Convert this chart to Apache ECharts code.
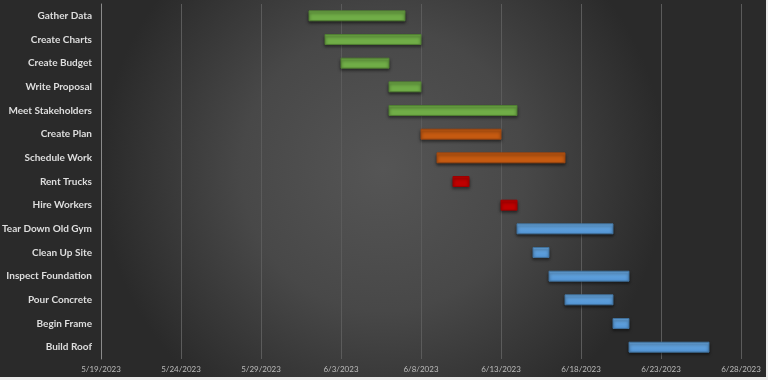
<!DOCTYPE html>
<html>
<head>
<meta charset="utf-8">
<script src="https://cdn.jsdelivr.net/npm/echarts@6/dist/echarts.min.js"></script>
<style>
  html, body { margin: 0; padding: 0; background: #ececec; }
  #chart { width: 766px; height: 377px; }
</style>
</head>
<body>
<div id="chart"></div>
<script>
const tasks = ['Gather Data','Create Charts','Create Budget','Write Proposal','Meet Stakeholders','Create Plan','Schedule Work','Rent Trucks','Hire Workers','Tear Down Old Gym','Clean Up Site','Inspect Foundation','Pour Concrete','Begin Frame','Build Roof'];
const startDates = ['2023-06-01','2023-06-02','2023-06-03','2023-06-06','2023-06-06','2023-06-08','2023-06-09','2023-06-10','2023-06-13','2023-06-14','2023-06-15','2023-06-16','2023-06-17','2023-06-20','2023-06-21'];
const durations = [6,6,3,2,8,5,8,1,1,6,1,5,3,1,5];
const phases = ['plan','plan','plan','plan','plan','prep','prep','hire','hire','build','build','build','build','build','build'];
const axisMinDate = '2023-05-19';
const axisMaxDate = '2023-06-28';
const tickDays = 5;

function toSerial(s) {
  const d = new Date(s + 'T00:00:00Z');
  return Math.round(d.getTime() / 86400000) + 25569;
}
function serialLabel(v) {
  const d = new Date((v - 25569) * 86400000);
  return (d.getUTCMonth() + 1) + '/' + d.getUTCDate() + '/' + d.getUTCFullYear();
}

const phaseStyle = {
  plan: { fill: '#70AD47', stroke: '#507E32' },
  prep: { fill: '#C55A11', stroke: '#9C4610' },
  hire: { fill: '#C00000', stroke: '#A00000' },
  build: { fill: new echarts.graphic.LinearGradient(0,0,0,1,[{offset:0,color:'#6AABE5'},{offset:1,color:'#5193D3'}]), stroke: '#41719C' }
};

const data = tasks.map((t, i) => {
  const s = toSerial(startDates[i]);
  return { value: [i, s, s + durations[i]], phase: phases[i] };
});

const chart = echarts.init(document.getElementById('chart'));
chart.setOption({
  backgroundColor: {
    type: 'radial', x: 0.5, y: 0.45, r: 0.75,
    colorStops: [
      { offset: 0, color: '#555555' },
      { offset: 0.5, color: '#484848' },
      { offset: 1, color: '#2a2a2a' }
    ]
  },
  animation: false,
  grid: { left: 101, right: 25, top: 4, bottom: 18, containLabel: false, outerBoundsMode: 'none' },
  xAxis: {
    type: 'value',
    min: toSerial(axisMinDate),
    max: toSerial(axisMaxDate),
    interval: tickDays,
    axisLine: { show: false },
    axisTick: { show: false },
    splitLine: { show: true, lineStyle: { color: '#5b5b5b', width: 1 } },
    axisLabel: {
      formatter: serialLabel,
      color: '#bdbdbd', fontSize: 8, fontFamily: 'Lato', margin: 6
    }
  },
  yAxis: {
    type: 'category',
    data: tasks,
    inverse: true,
    axisLine: { show: true, lineStyle: { color: '#8a8a8a', width: 1 } },
    axisTick: { show: false },
    splitLine: { show: false },
    axisLabel: {
      color: '#dedede', fontSize: 10, fontWeight: 'bold', fontFamily: 'Lato', margin: 9
    }
  },
  series: [{
    type: 'custom',
    encode: { x: [1, 2], y: 0 },
    data: data,
    renderItem: function (params, api) {
      const cat = api.value(0);
      const p0 = api.coord([api.value(1), cat]);
      const p1 = api.coord([api.value(2), cat]);
      const h = api.size([0, 1])[1] * 0.42;
      const st = phaseStyle[data[params.dataIndex].phase];
      return {
        type: 'rect',
        shape: { x: p0[0], y: p0[1] - h / 2, width: p1[0] - p0[0], height: h },
        style: {
          fill: st.fill, stroke: st.stroke, lineWidth: 1,
          shadowBlur: 3, shadowColor: 'rgba(0,0,0,0.55)', shadowOffsetY: 2, shadowOffsetX: 0
        }
      };
    }
  }]
});
</script>
</body>
</html>
